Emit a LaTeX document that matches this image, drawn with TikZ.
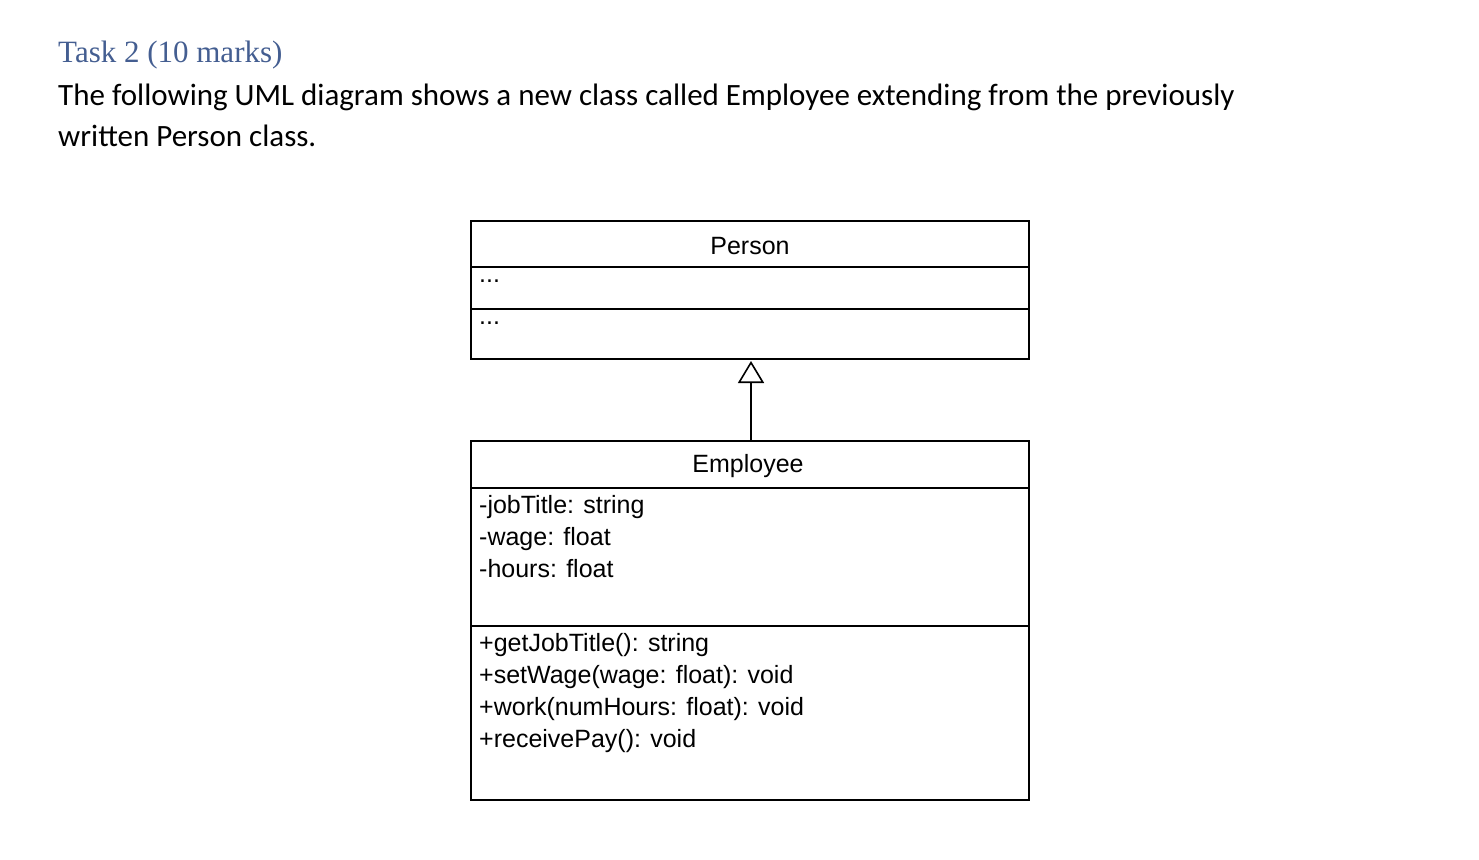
\documentclass[tikz,border=0pt]{standalone}
\usepackage{fontspec}
\setmainfont{Carlito}
\newfontfamily\umlfont{Liberation Sans}
\newfontfamily\headfont{Liberation Serif}
\usetikzlibrary{arrows.meta}
\definecolor{headblue}{RGB}{68,94,145}
\tikzset{
  umltext/.style={font=\umlfont\fontsize{25}{32}\selectfont, inner sep=0pt, anchor=north west, align=left},
  bodytext/.style={font=\fontsize{31}{41}\selectfont, inner sep=0pt, anchor=base west},
  box/.style={draw, line width=1.6pt},
}
\begin{document}
\begin{tikzpicture}[x=1pt,y=-1pt]
\useasboundingbox (0,0) rectangle (1479,859);
\node[bodytext, font=\headfont\fontsize{31}{38}\selectfont, text=headblue] (title) at (58,63) {Task 2 (10 marks)};
\node[bodytext] (l1) at (58,105) {The following UML diagram shows a new class called Employee extending from the previously};
\node[bodytext] (l2) at (58,146) {written Person class.};
% Person
\draw[box] (471,221) rectangle (1029,359);
\draw[box] (471,267) -- (1029,267);
\draw[box] (471,309) -- (1029,309);
\node[umltext, anchor=center] (pname) at (750,246) {Person};
\node[umltext] (pa) at (479,280) {...};
\node[umltext] (pm) at (479,322) {...};
% Employee
\draw[box] (471,441) rectangle (1029,800);
\draw[box] (471,488) -- (1029,488);
\draw[box] (471,626) -- (1029,626);
\node[umltext, anchor=center] (ename) at (748,466) {Employee};
\node[umltext] (ea) at (479,495) {-jobTitle: string\\-wage: float\\-hours: float};
\node[umltext] (em) at (479,633) {+getJobTitle(): string\\+setWage(wage: float): void\\+work(numHours: float): void\\+receivePay(): void};
\coordinate (etop) at (751,441);
\coordinate (ptop) at (751,361);
\draw[line width=1.6pt, -{Triangle[open, length=22pt, width=26pt, line width=1.6pt]}] (etop) -- (ptop);
\end{tikzpicture}
\end{document}
